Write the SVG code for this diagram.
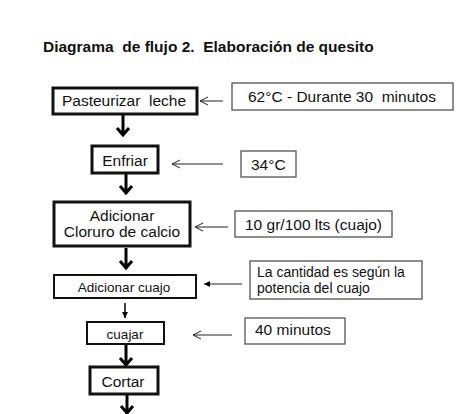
<svg xmlns="http://www.w3.org/2000/svg" width="474" height="414" viewBox="0 0 474 414" xml:space="preserve">
<defs>
<marker id="thin" markerUnits="userSpaceOnUse" markerWidth="10" markerHeight="10" refX="0" refY="0" orient="auto" viewBox="-10 -5 10 10" overflow="visible">
<path d="M-8,-4 L0,0 L-8,4" fill="none" stroke="#222" stroke-width="1"/>
</marker>
<marker id="tri" markerUnits="userSpaceOnUse" markerWidth="8" markerHeight="8" refX="0" refY="0" orient="auto" viewBox="-8 -4 8 8" overflow="visible">
<path d="M-6,-3 L0,0 L-6,3 Z" fill="#000"/>
</marker>
</defs>
<style>
text{font-family:"Liberation Sans",Arial,sans-serif;fill:#111;white-space:pre}
.t{font-size:15.5px;font-weight:bold}
.n{font-size:15.5px;text-anchor:middle}
.s{font-size:13.5px;text-anchor:middle}
.c{font-size:15.5px}
.cs{font-size:14px}
.thick{fill:#fff;stroke:#111;stroke-width:3}
.med{fill:#fff;stroke:#111;stroke-width:2}
.note{fill:#fff;stroke:#444;stroke-width:1.2}
.down{stroke:#000;stroke-width:3;fill:none}
.side{stroke:#222;stroke-width:1;fill:none}
</style>
<rect width="474" height="414" fill="#fff"/>
<text class="t" x="43" y="52">Diagrama  de flujo 2.  Elaboración de quesito</text>
<g id="connectors">
<path class="side" d="M223,101 H200" marker-end="url(#thin)"/>
<path class="side" d="M223,164 H172" marker-end="url(#thin)"/>
<path class="side" d="M228,227 H195" marker-end="url(#thin)"/>
<path class="side" d="M242,284 H204" marker-end="url(#tri)"/>
<path class="side" d="M232,335 H193" marker-end="url(#thin)"/>
<g class="down">
<path d="M123,115 V136 M117,128 L123,135 L129,128"/>
<path d="M126,173 V194 M120,186 L126,193 L132,186"/>
<path d="M126,248 V269 M120,261 L126,268 L132,261"/>
<path d="M126,345 V366 M120,358 L126,365 L132,358"/>
<path d="M127,395 V414 M121,406 L127,413 L133,406"/>
</g>
<path d="M125,303 V318" stroke="#000" stroke-width="1.5" marker-end="url(#tri)"/>
</g>
<g id="n1"><rect class="thick" x="53" y="88" width="144" height="26"/><text class="n" x="124" y="106">Pasteurizar  leche</text></g>
<g id="n1note"><rect class="note" x="232" y="83" width="221" height="27"/><text class="c" x="248" y="102">62°C - Durante 30  minutos</text></g>
<g id="n2"><rect class="thick" x="92" y="146" width="66" height="27"/><text class="n" x="125" y="166">Enfriar</text></g>
<g id="n2note"><rect class="note" x="241" y="151" width="55" height="26"/><text class="c" x="251" y="170">34°C</text></g>
<g id="n3"><rect class="thick" x="54" y="202" width="136" height="44"/><text class="n" x="122" y="221">Adicionar</text><text class="n" x="122" y="237">Cloruro de calcio</text></g>
<g id="n3note"><rect class="note" x="235" y="211" width="157" height="26"/><text class="c" x="245" y="230">10 gr/100 lts (cuajo)</text></g>
<g id="n4"><rect class="med" x="54" y="275" width="142" height="23"/><text class="s" x="124" y="292">Adicionar cuajo</text></g>
<g id="n4note"><rect class="note" x="250" y="261" width="172" height="38"/><text class="cs" x="257" y="277">La cantidad es según la</text><text class="cs" x="257" y="293">potencia del cuajo</text></g>
<g id="n5"><rect class="med" x="87" y="322" width="77" height="22"/><text class="s" x="125" y="339">cuajar</text></g>
<g id="n5note"><rect class="note" x="245" y="318" width="100" height="26"/><text class="c" x="255" y="335">40 minutos</text></g>
<g id="n6"><rect class="thick" x="90" y="367" width="68" height="27"/><text class="n" x="123" y="387">Cortar</text></g>
</svg>
